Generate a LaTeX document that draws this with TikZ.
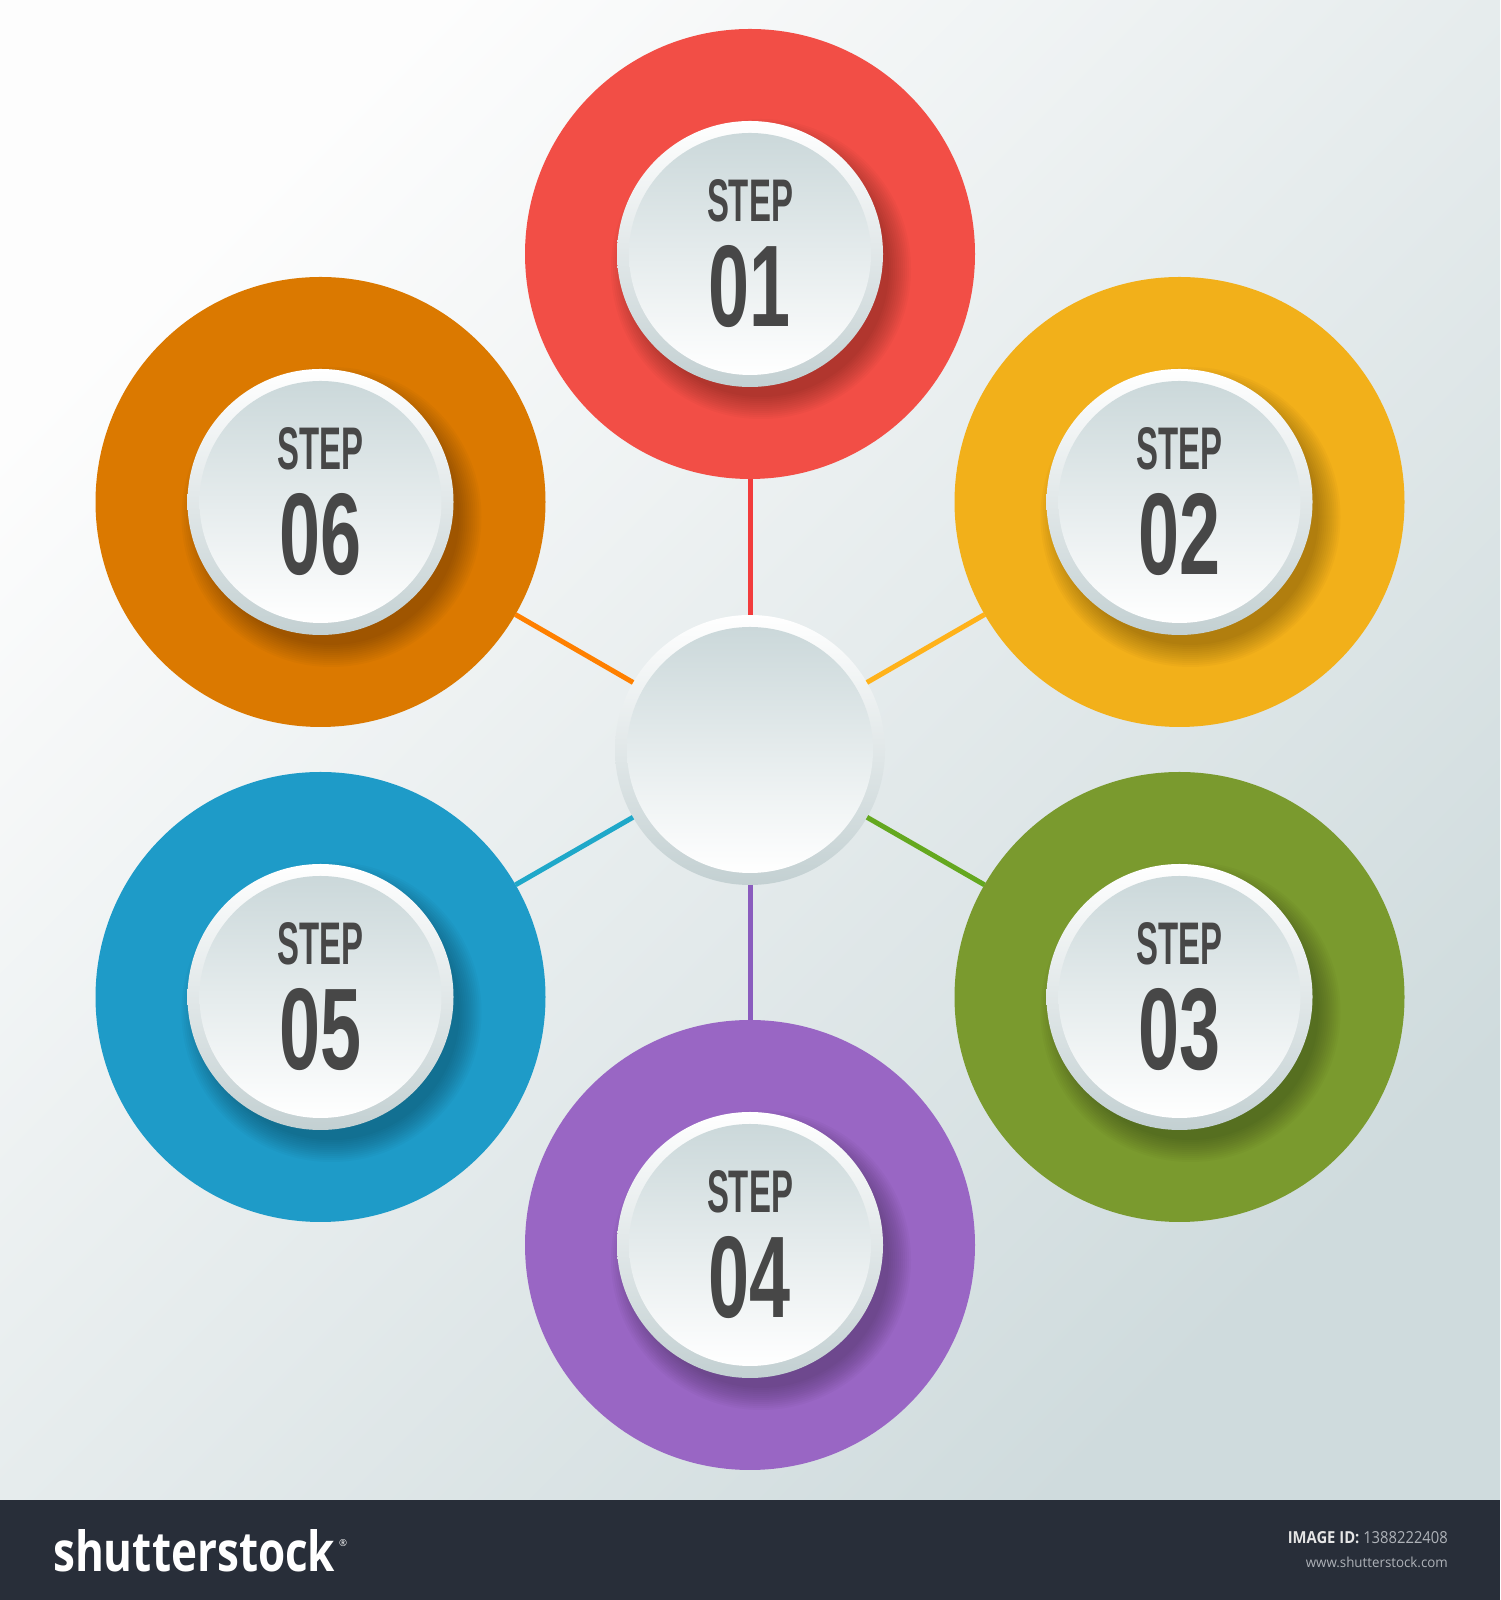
\documentclass[tikz,border=0pt]{standalone}
\usepackage{fontspec}
\usepackage{graphicx}
\setmainfont{Liberation Sans}
\newfontfamily\stepfont{Liberation Sans}
\newfontfamily\osfont{Open Sans}
\usetikzlibrary{calc}
\definecolor{bgA}{HTML}{FDFDFD}
\definecolor{bgB}{HTML}{CFDBDD}
\definecolor{barc}{HTML}{282E39}
\definecolor{ringA}{HTML}{F24E46}
\definecolor{ringB}{HTML}{F2B01A}
\definecolor{ringC}{HTML}{7A9A2E}
\definecolor{ringD}{HTML}{9966C4}
\definecolor{ringE}{HTML}{1E9BC8}
\definecolor{ringF}{HTML}{DB7900}
\definecolor{lineA}{HTML}{F23C3C}
\definecolor{lineB}{HTML}{FFB21A}
\definecolor{lineC}{HTML}{64A81F}
\definecolor{lineD}{HTML}{8A5CBE}
\definecolor{lineE}{HTML}{1FA8C9}
\definecolor{lineF}{HTML}{FF8000}
\definecolor{textc}{HTML}{474747}
\definecolor{rimdark}{HTML}{C3D0D2}
\definecolor{disktop}{HTML}{CBD8DA}
\definecolor{idc}{HTML}{E6E6E6}
\definecolor{numc}{HTML}{AEB2B8}
\tikzset{
  ringnode/.style={circle, minimum size=450pt, inner sep=0pt, outer sep=0pt, draw=none},
  rimnode/.style={circle, minimum size=#1, inner sep=0pt, outer sep=0pt, draw=none, top color=white, bottom color=rimdark},
  disknode/.style={circle, minimum size=#1, inner sep=0pt, outer sep=0pt, draw=none, top color=disktop, bottom color=white},
  conn/.style={line width=5pt},
  txt/.style={inner sep=0pt, outer sep=0pt, text=textc}
}
\begin{document}
\begin{tikzpicture}[x=1pt,y=1pt]
\useasboundingbox (0,0) rectangle (1500,1600);
\shade[top color=bgA, bottom color=bgB, shading angle=45] (0,100) rectangle (1500,1600);
% centre
\node[rimnode=270pt] (c) at (750,850) {};
\node[disknode=246pt] (cd) at (c) {};
% rings
\foreach \i/\x/\y/\col in {1/750/1346/A, 2/1179.5/1098/B, 3/1179.5/603/C, 4/750/355/D, 5/320.5/603/E, 6/320.5/1098/F}{
  \node[ringnode, fill=ring\col] (s\i) at (\x,\y) {};
}
% connectors
\draw[conn, lineA] (c) -- (s1);
\draw[conn, lineB] (c) -- (s2);
\draw[conn, lineC] (c) -- (s3);
\draw[conn, lineD] (c) -- (s4);
\draw[conn, lineE] (c) -- (s5);
\draw[conn, lineF] (c) -- (s6);
% inner buttons
\foreach \i in {1,...,6}{
  \foreach \k in {0,...,11}{
    \fill[black, opacity=0.022] ($(s\i)+(11,-15)$) circle ({128+2*\k});
  }
  \node[rimnode=266pt] (r\i) at (s\i) {};
  \node[disknode=242pt] (d\i) at (s\i) {};
  \node[txt] (t\i) at ($(s\i)+(0,53)$) {\resizebox{86pt}{42pt}{\stepfont\bfseries STEP}};
  \node[txt] (n\i) at ($(s\i)+(0,-33)$) {\resizebox{82pt}{81pt}{\stepfont\bfseries 0\i}};
}
% bottom bar
\fill[barc] (0,0) rectangle (1500,100);
\node[anchor=base west, inner sep=0pt, text=white] (logo) at (53,28) {\resizebox{282pt}{42pt}{\osfont\bfseries shutterstock}};
\node[inner sep=0pt, text=white] (reg) at (343,57) {\resizebox{8pt}{!}{\osfont ®}};
\node[anchor=base east, inner sep=0pt] (imgid) at (1448,56) {\resizebox{160pt}{12pt}{\osfont{\bfseries\color{idc}IMAGE ID:} \color{numc}1388222408}};
\node[anchor=base east, inner sep=0pt, text=numc] (www) at (1448,32) {\resizebox{142pt}{10.5pt}{\osfont www.shutterstock.com}};
\end{tikzpicture}
\end{document}
